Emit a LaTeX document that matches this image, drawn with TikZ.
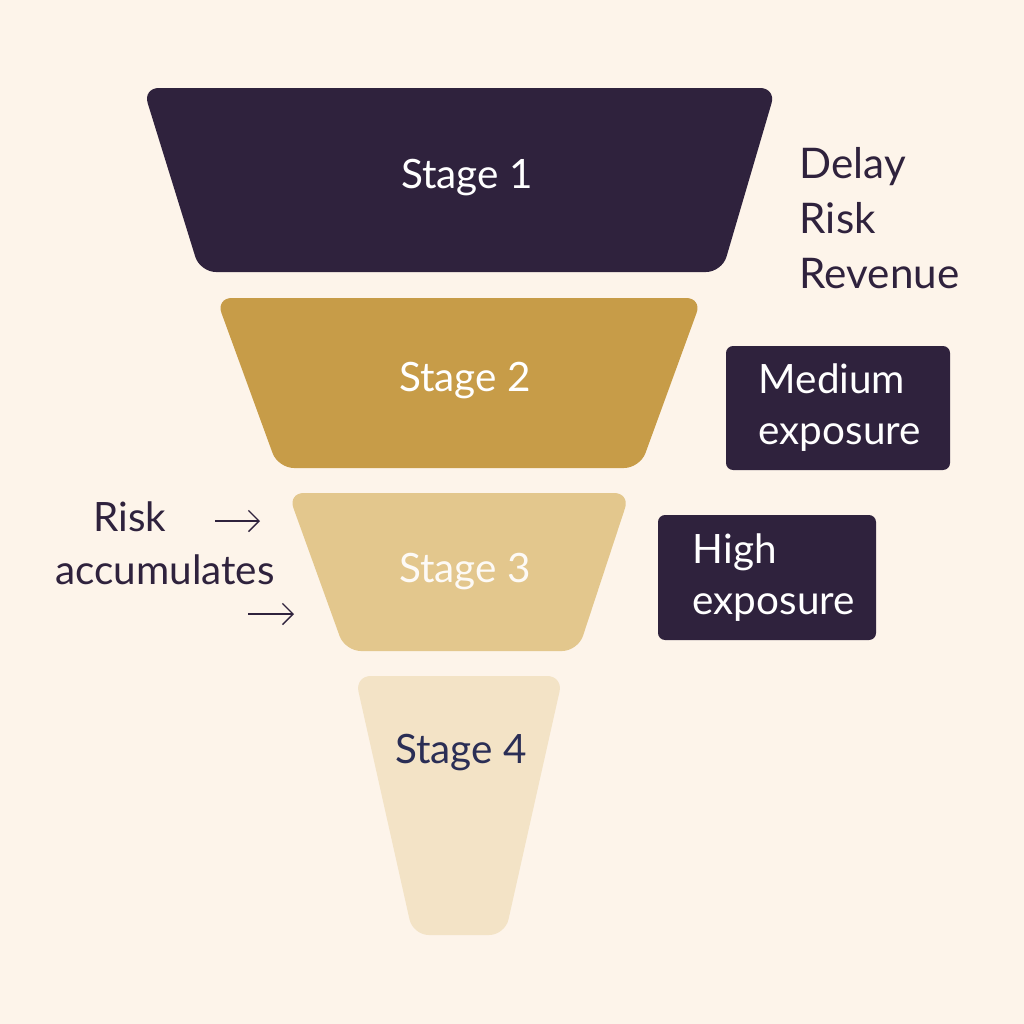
\documentclass[tikz,border=0pt]{standalone}
\usepackage{fontspec}
\setmainfont{Lato}
\usepackage{tikz}
\usetikzlibrary{positioning}
\usetikzlibrary{arrows.meta}
\definecolor{bgcream}{HTML}{FDF4EA}
\definecolor{darkplum}{HTML}{2F223D}
\definecolor{gold}{HTML}{C79C48}
\definecolor{sand}{HTML}{E3C78D}
\definecolor{pale}{HTML}{F3E3C6}
\definecolor{navy}{HTML}{2A2E55}
\tikzset{stage/.style={rounded corners=4.5pt},
         label/.style={font=\fontsize{11.5}{13}\selectfont},
         badge/.style={fill=darkplum,rounded corners=2pt,text=white,align=left,
                       font=\fontsize{11.5}{14.5}\selectfont,inner sep=0pt}}
\begin{document}
\begin{tikzpicture}[x=0.01cm,y=-0.01cm]
            \fill[bgcream] (0,0) rectangle (1024,1024);
            \useasboundingbox (0,0) rectangle (1024,1024);
            \fill[stage,darkplum] (143,88)--(776,88)--(722,272)--(200,272)--cycle;
            \fill[stage,gold] (216,298)--(702,298)--(640,468)--(278,468)--cycle;
            \fill[stage,sand] (288,493)--(630,493)--(578,651)--(345,651)--cycle;
            \fill[stage,pale] (355,676)--(563,676)--(505,935)--(413,935)--cycle;
            \node[label,text=white] (s1) at (467,178) {Stage 1};
            \node[label,text=white] (s2) at (465,381) {Stage 2};
            \node[label,text=white!92!sand] (s3) at (465,572) {Stage 3};
            \node[label,text=navy] (s4) at (461,753) {Stage 4};
            \node[label,text=darkplum,anchor=west,align=left,inner sep=0pt,font=\fontsize{12}{15.6}\selectfont] (kpi) at (799,218) {Delay\\Risk\\Revenue};
            \fill[badge] (726,346) rectangle (950,470);
            \node[badge,anchor=west] (med) at (758,408) {Medium\\exposure};
            \fill[badge] (658,515) rectangle (876,640);
            \node[badge,anchor=west] (high) at (692,578) {High\\exposure};
            \node[label,text=darkplum] (risk) at (130,517) {Risk};
            \node[label,text=darkplum] (acc) at (165,570) {accumulates};
            \coordinate (a1) at (215,521);
            \coordinate (b1) at (260,521);
            \coordinate (a2) at (248,614);
            \coordinate (b2) at (294,614);
            \draw[-{Straight Barb[length=3pt]},darkplum,thin] (a1)--(b1);
            \draw[-{Straight Barb[length=3pt]},darkplum,thin] (a2)--(b2);
        \end{tikzpicture}
\end{document}
